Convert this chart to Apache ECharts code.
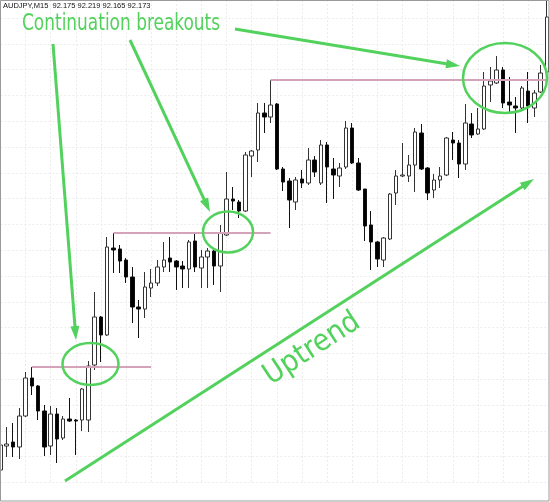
<!DOCTYPE html>
<html><head><meta charset="utf-8">
<script src="https://cdn.jsdelivr.net/npm/echarts@6/dist/echarts.min.js"></script>
<style>html,body{margin:0;padding:0;background:#fff}#c{width:550px;height:502px}</style>
</head><body><div id="c"></div>
<script>
const opens=[89.975,90.095,90.115,90.090,90.245,90.435,90.395,90.270,90.095,90.255,90.135,90.230,90.225,90.225,90.225,90.500,90.740,90.650,91.085,91.080,91.025,90.940,90.790,90.780,90.885,90.910,90.990,91.035,91.020,90.995,90.980,91.120,90.985,91.040,91.070,90.995,91.150,91.330,91.315,91.270,91.545,91.575,91.760,91.740,91.805,91.480,91.420,91.315,91.430,91.410,91.525,91.410,91.600,91.480,91.445,91.490,91.685,91.510,91.380,91.200,91.115,91.025,91.130,91.360,91.445,91.445,91.500,91.660,91.485,91.375,91.425,91.450,91.625,91.610,91.505,91.705,91.655,91.680,91.900,91.910,91.975,91.815,91.795,91.785,91.870,91.785,91.865,91.965];
const closes=[90.100,90.105,90.090,90.245,90.435,90.395,90.270,90.090,90.255,90.130,90.230,90.220,90.220,90.380,90.495,90.740,90.650,91.090,91.075,91.020,90.940,90.790,90.780,90.890,90.910,90.990,91.025,91.015,90.990,90.980,91.115,90.990,91.040,91.070,90.995,91.160,91.330,91.320,91.270,91.550,91.570,91.760,91.740,91.800,91.480,91.415,91.325,91.425,91.410,91.525,91.465,91.600,91.490,91.450,91.485,91.685,91.510,91.375,91.195,91.115,91.030,91.135,91.355,91.445,91.450,91.500,91.665,91.480,91.360,91.425,91.445,91.635,91.610,91.505,91.710,91.650,91.680,91.895,91.920,91.975,91.810,91.800,91.785,91.885,91.795,91.860,91.960,92.240];
const lows=[89.835,90.040,90.040,90.030,90.240,90.350,90.225,90.045,90.050,90.010,90.125,90.215,90.050,90.170,90.165,90.475,90.515,90.645,90.960,90.960,90.910,90.710,90.635,90.735,90.840,90.895,90.965,90.965,90.875,90.885,90.885,90.965,90.885,90.885,90.900,90.865,91.145,91.275,91.235,91.265,91.440,91.515,91.660,91.710,91.475,91.370,91.185,91.275,91.385,91.400,91.440,91.400,91.310,91.330,91.390,91.480,91.505,91.370,91.120,90.975,90.990,90.990,91.125,91.300,91.440,91.415,91.365,91.475,91.325,91.335,91.385,91.445,91.525,91.435,91.475,91.635,91.650,91.675,91.815,91.905,91.785,91.760,91.660,91.775,91.710,91.740,91.860,91.960];
const highs=[90.125,90.190,90.210,90.285,90.465,90.490,90.400,90.300,90.295,90.285,90.245,90.335,90.230,90.385,90.520,90.865,90.745,91.140,91.160,91.100,91.035,90.990,90.825,90.965,90.980,91.025,91.115,91.140,91.025,91.020,91.125,91.155,91.075,91.085,91.080,91.200,91.465,91.390,91.325,91.565,91.575,91.810,91.810,91.925,91.810,91.490,91.435,91.440,91.475,91.585,91.545,91.625,91.615,91.535,91.510,91.720,91.710,91.535,91.380,91.270,91.120,91.140,91.360,91.475,91.610,91.550,91.685,91.705,91.490,91.455,91.490,91.640,91.665,91.625,91.805,91.760,91.785,91.965,91.990,92.045,91.990,91.940,91.840,91.895,91.965,91.875,92.000,92.325];
// breakout resistance levels: start candle (its high) and end candle
const levelStart=[5,18,43];
const levelEnd=[24,43,87];
const headerText='AUDJPY,M15  92.175 92.219 92.165 92.173';
const titleText='Continuation breakouts';
const trendText='Uptrend';

const categories=[];
for(let i=0;i<opens.length;i++){
  const m=(6*60+15*i)%1440;
  categories.push(String(Math.floor(m/60)).padStart(2,'0')+':'+String(m%60).padStart(2,'0'));
}
const ohlc=opens.map((o,i)=>[o,closes[i],lows[i],highs[i]]);
const levels=levelStart.map((s,k)=>[{coord:[s,highs[s]]},{coord:[levelEnd[k],highs[s]]}]);

const G='#52d25c';
function arrow(x1,y1,x2,y2){
  const dx=x2-x1,dy=y2-y1,L=Math.hypot(dx,dy),ux=dx/L,uy=dy/L,hl=14,hw=4.5;
  const bx=x2-ux*hl,by=y2-uy*hl;
  return [
    {type:'line',z:100,shape:{x1:x1,y1:y1,x2:bx+ux*3,y2:by+uy*3},style:{stroke:G,lineWidth:3}},
    {type:'polygon',z:100,shape:{points:[[x2,y2],[bx-uy*hw,by+ux*hw],[bx+uy*hw,by-ux*hw]]},style:{fill:G}}
  ];
}
function ell(cx,cy,rx,ry){
  return {type:'ellipse',z:100,shape:{cx:cx,cy:cy,rx:rx,ry:ry},style:{fill:null,stroke:G,lineWidth:2.5}};
}
const graphics=[].concat(
  arrow(53,44,76,340),
  arrow(130,40,210,212),
  arrow(235,29,460,66),
  arrow(65,481,534,179),
  [ell(90.5,364,28,21), ell(228,232,25,20.5), ell(505,78,42,35),
   {type:'text',z:100,x:3,y:2,style:{text:headerText,font:'7.5px "Liberation Sans", Arial, sans-serif',fill:'#111',textVerticalAlign:'top'}},
   {type:'text',z:100,x:22,y:24,scaleX:0.82,style:{text:titleText,font:'23px "DejaVu Sans Condensed", "DejaVu Sans", sans-serif',fill:G,textVerticalAlign:'middle'}},
   {type:'text',z:100,x:312,y:349,rotation:33*Math.PI/180,style:{text:trendText,font:'30px "DejaVu Sans Condensed", "DejaVu Sans", sans-serif',fill:G,textAlign:'center',textVerticalAlign:'middle'}},
   {type:'rect',z:100,shape:{x:0.5,y:0.5,width:548.5,height:500.5},style:{fill:null,stroke:'#9a9a9a',lineWidth:1}}
  ]
);

const chart=echarts.init(document.getElementById('c'),null,{renderer:'canvas'});
chart.setOption({
  animation:false,
  backgroundColor:'#ffffff',
  grid:{left:0.42,right:3,top:0,bottom:19.6,containLabel:false},
  xAxis:{type:'category',data:categories,boundaryGap:false,
    axisLine:{show:false},axisTick:{show:false},axisLabel:{show:false},
    splitLine:{show:true,interval:3,lineStyle:{color:'#ececec',type:[2,2],width:1}}},
  yAxis:{type:'value',min:89.913,max:92.325,interval:0.129,scale:true,
    axisLine:{show:false},axisTick:{show:false},axisLabel:{show:false},
    splitLine:{show:true,lineStyle:{color:'#ececec',type:[2,2],width:1}}},
  series:[{
    type:'candlestick',data:ohlc,barWidth:4,clip:false,
    itemStyle:{color:'#ffffff',color0:'#000000',borderColor:'#333333',borderColor0:'#111111',borderWidth:1},
    markLine:{silent:true,symbol:'none',label:{show:false},
      lineStyle:{color:'#d4a3ba',width:2,type:'solid'},data:levels}
  }],
  graphic:graphics
});
</script></body></html>
